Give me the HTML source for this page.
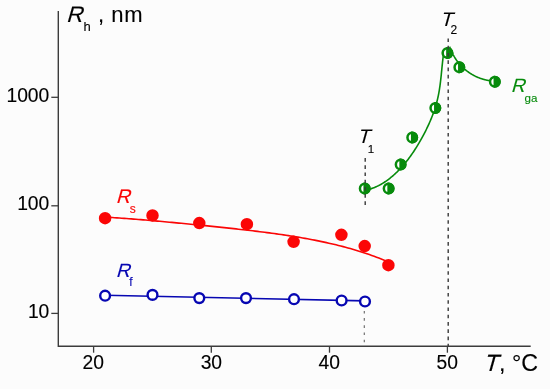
<!DOCTYPE html>
<html><head><meta charset="utf-8"><style>
html,body{margin:0;padding:0;background:#fcfcfc;}
svg{display:block;font-family:"Liberation Sans",Arial,sans-serif;}
text{stroke-width:0.12px;}
</style></head><body>
<svg width="550" height="389" viewBox="0 0 550 389">
<rect width="550" height="389" fill="#fcfcfc"/>
<path d="M58.3,11 V346.3 H530.7" fill="none" stroke="#3c3c3c" stroke-width="1.4"/>
<line x1="51.3" y1="97.3" x2="58.3" y2="97.3" stroke="#3c3c3c" stroke-width="1.3"/>
<line x1="51.3" y1="205.8" x2="58.3" y2="205.8" stroke="#3c3c3c" stroke-width="1.3"/>
<line x1="51.3" y1="313.4" x2="58.3" y2="313.4" stroke="#3c3c3c" stroke-width="1.3"/>
<line x1="93.6" y1="346.3" x2="93.6" y2="352.7" stroke="#3c3c3c" stroke-width="1.3"/>
<line x1="211.3" y1="346.3" x2="211.3" y2="352.7" stroke="#3c3c3c" stroke-width="1.3"/>
<line x1="329.5" y1="346.3" x2="329.5" y2="352.7" stroke="#3c3c3c" stroke-width="1.3"/>
<line x1="447.4" y1="346.3" x2="447.4" y2="352.7" stroke="#3c3c3c" stroke-width="1.3"/>
<text x="6.42" y="102.00" font-size="19.3" font-style="normal" fill="#000" stroke="#000">1000</text>
<text x="17.15" y="209.90" font-size="19.3" font-style="normal" fill="#000" stroke="#000">100</text>
<text x="27.89" y="318.00" font-size="19.3" font-style="normal" fill="#000" stroke="#000">10</text>
<text x="82.56" y="369.00" font-size="19.3" font-style="normal" fill="#000" stroke="#000">20</text>
<text x="200.63" y="369.00" font-size="19.3" font-style="normal" fill="#000" stroke="#000">30</text>
<text x="318.52" y="369.00" font-size="19.3" font-style="normal" fill="#000" stroke="#000">40</text>
<text x="436.56" y="369.00" font-size="19.3" font-style="normal" fill="#000" stroke="#000">50</text>
<path d="M105.10,217.09 L107.48,217.23 L109.86,217.38 L112.24,217.53 L114.62,217.69 L117.00,217.85 L119.38,218.01 L121.76,218.18 L124.15,218.36 L126.53,218.53 L128.91,218.71 L131.29,218.90 L133.67,219.09 L136.05,219.28 L138.43,219.47 L140.81,219.67 L143.19,219.87 L145.57,220.07 L147.95,220.27 L150.33,220.48 L152.71,220.69 L155.09,220.90 L157.47,221.11 L159.86,221.32 L162.24,221.54 L164.62,221.75 L167.00,221.97 L169.38,222.19 L171.76,222.41 L174.14,222.64 L176.52,222.86 L178.90,223.09 L181.28,223.31 L183.66,223.54 L186.04,223.77 L188.42,224.00 L190.80,224.23 L193.18,224.47 L195.57,224.70 L197.95,224.94 L200.33,225.17 L202.71,225.41 L205.09,225.65 L207.47,225.89 L209.85,226.13 L212.23,226.37 L214.61,226.62 L216.99,226.86 L219.37,227.11 L221.75,227.36 L224.13,227.61 L226.51,227.87 L228.89,228.12 L231.28,228.38 L233.66,228.64 L236.04,228.90 L238.42,229.17 L240.80,229.43 L243.18,229.70 L245.56,229.98 L247.94,230.25 L250.32,230.53 L252.70,230.82 L255.08,231.10 L257.46,231.39 L259.84,231.69 L262.22,231.99 L264.61,232.29 L266.99,232.60 L269.37,232.91 L271.75,233.23 L274.13,233.56 L276.51,233.89 L278.89,234.22 L281.27,234.56 L283.65,234.91 L286.03,235.27 L288.41,235.63 L290.79,236.00 L293.17,236.37 L295.55,236.76 L297.93,237.15 L300.32,237.55 L302.70,237.96 L305.08,238.38 L307.46,238.81 L309.84,239.25 L312.22,239.70 L314.60,240.16 L316.98,240.63 L319.36,241.11 L321.74,241.60 L324.12,242.11 L326.50,242.63 L328.88,243.16 L331.26,243.70 L333.64,244.26 L336.03,244.83 L338.41,245.42 L340.79,246.02 L343.17,246.64 L345.55,247.27 L347.93,247.92 L350.31,248.59 L352.69,249.27 L355.07,249.97 L357.45,250.69 L359.83,251.43 L362.21,252.19 L364.59,252.96 L366.97,253.76 L369.35,254.58 L371.74,255.42 L374.12,256.28 L376.50,257.16 L378.88,258.07 L381.26,259.00 L383.64,259.95 L386.02,260.93 L388.40,261.94" fill="none" stroke="#fb0606" stroke-width="1.6"/>
<path d="M105.10,295.20 L365.00,300.90" fill="none" stroke="#0707b2" stroke-width="1.6"/>
<path d="M364.67,190.44 L365.54,190.26 L366.40,190.07 L367.26,189.87 L368.11,189.65 L368.95,189.41 L369.79,189.17 L370.62,188.91 L371.44,188.63 L372.25,188.35 L373.06,188.05 L373.86,187.74 L374.65,187.42 L375.44,187.08 L376.22,186.74 L377.00,186.38 L377.76,186.01 L378.53,185.64 L379.28,185.25 L380.03,184.85 L380.77,184.44 L381.51,184.02 L382.24,183.59 L382.96,183.15 L383.68,182.70 L384.40,182.24 L385.10,181.77 L385.80,181.30 L386.50,180.81 L387.19,180.32 L387.87,179.82 L388.55,179.31 L389.23,178.79 L389.89,178.27 L390.56,177.74 L391.21,177.20 L391.87,176.66 L392.51,176.11 L393.16,175.55 L393.79,174.99 L394.43,174.42 L395.05,173.84 L395.67,173.26 L396.29,172.67 L396.91,172.08 L397.51,171.48 L398.12,170.88 L398.72,170.27 L399.31,169.66 L399.90,169.04 L400.48,168.42 L401.06,167.79 L401.64,167.15 L402.21,166.52 L402.78,165.87 L403.34,165.22 L403.90,164.57 L404.45,163.92 L405.00,163.26 L405.55,162.59 L406.09,161.92 L406.62,161.25 L407.15,160.57 L407.68,159.89 L408.21,159.21 L408.73,158.52 L409.24,157.83 L409.76,157.13 L410.26,156.43 L410.77,155.73 L411.27,155.03 L411.76,154.32 L412.26,153.61 L412.75,152.89 L413.23,152.18 L413.71,151.46 L414.19,150.73 L414.66,150.01 L415.13,149.28 L415.60,148.55 L416.06,147.82 L416.52,147.08 L416.98,146.35 L417.43,145.61 L417.88,144.87 L418.33,144.12 L418.77,143.38 L419.21,142.63 L419.64,141.89 L420.08,141.14 L420.51,140.39 L420.93,139.64 L421.36,138.88 L421.78,138.13 L422.19,137.37 L422.61,136.62 L423.02,135.86 L423.42,135.10 L423.83,134.34 L424.23,133.58 L424.63,132.82 L425.02,132.05 L425.41,131.29 L425.80,130.52 L426.18,129.75 L426.56,128.99 L426.93,128.22 L427.30,127.44 L427.67,126.67 L428.03,125.90 L428.39,125.12 L428.75,124.35 L429.10,123.57 L429.45,122.79 L429.79,122.01 L430.13,121.23 L430.46,120.44 L430.79,119.66 L431.12,118.87 L431.44,118.08 L431.76,117.29 L432.07,116.50 L432.38,115.71 L432.68,114.91 L432.98,114.12 L433.27,113.32 L433.56,112.52 L433.84,111.72 L434.12,110.92 L434.39,110.11 L434.66,109.31 L434.92,108.50 L435.18,107.69 L435.43,106.88 L435.68,106.07 L435.92,105.25 L436.15,104.44 L436.38,103.62 L436.61,102.80 L436.83,101.98 L437.04,101.15 L437.25,100.33 L437.45,99.50 L437.65,98.67 L437.84,97.84 L438.02,97.01 L438.20,96.17 L438.37,95.33 L438.54,94.49 L438.70,93.65 L438.86,92.81 L439.01,91.97 L439.15,91.12 L439.30,90.28 L439.43,89.43 L439.56,88.58 L439.69,87.73 L439.82,86.88 L439.94,86.02 L440.05,85.17 L440.17,84.32 L440.28,83.46 L440.38,82.60 L440.49,81.75 L440.59,80.89 L440.69,80.03 L440.79,79.17 L440.88,78.31 L440.98,77.45 L441.07,76.59 L441.16,75.73 L441.25,74.87 L441.33,74.01 L441.42,73.15 L441.51,72.29 L441.59,71.43 L441.68,70.57 L441.76,69.71 L441.85,68.85 L441.93,67.99 L442.02,67.13 L442.11,66.28 L442.19,65.42 L442.28,64.56 L442.37,63.71 L442.46,62.85 L442.55,62.00 L442.65,61.14 L442.75,60.29 L442.84,59.44 L442.94,58.59 L443.05,57.75 L443.15,56.90 L443.26,56.05 L443.38,55.21 L443.49,54.37 L443.61,53.53 L443.73,52.69 L443.86,51.85 L443.99,51.02" fill="none" stroke="#078b0c" stroke-width="1.6"/>
<path d="M449.80,46.63 L449.89,46.92 L449.99,47.22 L450.08,47.51 L450.18,47.80 L450.28,48.09 L450.39,48.38 L450.49,48.67 L450.60,48.96 L450.70,49.25 L450.81,49.53 L450.93,49.82 L451.04,50.10 L451.15,50.39 L451.27,50.67 L451.39,50.95 L451.51,51.24 L451.63,51.52 L451.76,51.80 L451.88,52.07 L452.01,52.35 L452.14,52.63 L452.27,52.91 L452.40,53.18 L452.53,53.45 L452.67,53.73 L452.81,54.00 L452.94,54.27 L453.09,54.54 L453.23,54.81 L453.37,55.08 L453.52,55.35 L453.66,55.61 L453.81,55.88 L453.96,56.14 L454.11,56.41 L454.27,56.67 L454.42,56.93 L454.58,57.19 L454.74,57.45 L454.89,57.71 L455.06,57.97 L455.22,58.22 L455.38,58.48 L455.55,58.73 L455.71,58.98 L455.88,59.24 L456.05,59.49 L456.23,59.74 L456.40,59.98 L456.57,60.23 L456.75,60.48 L456.93,60.72 L457.10,60.97 L457.29,61.21 L457.47,61.45 L457.65,61.69 L457.83,61.93 L458.02,62.17 L458.21,62.41 L458.40,62.65 L458.59,62.88 L458.78,63.11 L458.97,63.35 L459.17,63.58 L459.36,63.81 L459.56,64.04 L459.76,64.26 L459.96,64.49 L460.16,64.72 L460.36,64.94 L460.56,65.16 L460.77,65.38 L460.98,65.61 L461.18,65.82 L461.39,66.04 L461.60,66.26 L461.81,66.47 L462.03,66.69 L462.24,66.90 L462.46,67.11 L462.67,67.32 L462.89,67.53 L463.11,67.74 L463.33,67.94 L463.55,68.15 L463.77,68.35 L464.00,68.55 L464.22,68.75 L464.45,68.95 L464.68,69.15 L464.90,69.35 L465.13,69.54 L465.36,69.74 L465.60,69.93 L465.83,70.12 L466.06,70.31 L466.30,70.50 L466.54,70.68 L466.77,70.87 L467.01,71.05 L467.25,71.24 L467.49,71.42 L467.74,71.60 L467.98,71.77 L468.22,71.95 L468.47,72.13 L468.71,72.30 L468.96,72.47 L469.21,72.64 L469.46,72.81 L469.71,72.98 L469.96,73.15 L470.21,73.31 L470.47,73.47 L470.72,73.64 L470.98,73.80 L471.23,73.95 L471.49,74.11 L471.75,74.27 L472.01,74.42 L472.27,74.57 L472.53,74.72 L472.79,74.87 L473.06,75.02 L473.32,75.17 L473.58,75.31 L473.85,75.45 L474.12,75.59 L474.38,75.73 L474.65,75.87 L474.92,76.01 L475.19,76.14 L475.46,76.28 L475.74,76.41 L476.01,76.54 L476.28,76.66 L476.56,76.79 L476.83,76.92 L477.11,77.04 L477.38,77.16 L477.66,77.28 L477.94,77.40 L478.22,77.51 L478.50,77.63 L478.78,77.74 L479.06,77.85 L479.35,77.96 L479.63,78.07 L479.91,78.17 L480.20,78.28 L480.48,78.38 L480.77,78.48 L481.06,78.58 L481.34,78.68 L481.63,78.77 L481.92,78.86 L482.21,78.96 L482.50,79.05 L482.79,79.13 L483.08,79.22 L483.37,79.30 L483.67,79.39 L483.96,79.47 L484.26,79.54 L484.55,79.62 L484.85,79.70 L485.14,79.77 L485.44,79.84 L485.74,79.91 L486.03,79.98 L486.33,80.04 L486.63,80.11 L486.93,80.17 L487.23,80.23 L487.53,80.29 L487.83,80.34 L488.13,80.40 L488.44,80.45 L488.74,80.50 L489.04,80.55 L489.35,80.59 L489.65,80.64 L489.96,80.68 L490.26,80.72 L490.57,80.76 L490.87,80.79 L491.18,80.83 L491.49,80.86 L491.79,80.89 L492.10,80.92 L492.41,80.95 L492.72,80.97 L493.03,80.99 L493.34,81.01 L493.65,81.03 L493.96,81.05 L494.27,81.06 L494.58,81.07 L494.89,81.08" fill="none" stroke="#078b0c" stroke-width="1.6"/>
<circle cx="105.1" cy="218.2" r="5.0" fill="#fb0606" stroke="#fb0606" stroke-width="2.5"/>
<circle cx="152.5" cy="215.4" r="5.0" fill="#fb0606" stroke="#fb0606" stroke-width="2.5"/>
<circle cx="199.3" cy="223.1" r="5.0" fill="#fb0606" stroke="#fb0606" stroke-width="2.5"/>
<circle cx="246.9" cy="224.2" r="5.0" fill="#fb0606" stroke="#fb0606" stroke-width="2.5"/>
<circle cx="293.6" cy="241.8" r="5.0" fill="#fb0606" stroke="#fb0606" stroke-width="2.5"/>
<circle cx="341.4" cy="234.8" r="5.0" fill="#fb0606" stroke="#fb0606" stroke-width="2.5"/>
<circle cx="364.7" cy="246.1" r="5.0" fill="#fb0606" stroke="#fb0606" stroke-width="2.5"/>
<circle cx="388.4" cy="265.2" r="5.0" fill="#fb0606" stroke="#fb0606" stroke-width="2.5"/>
<circle cx="105.1" cy="295.7" r="4.9" fill="#fff" stroke="#0707b2" stroke-width="2.4"/>
<circle cx="152.5" cy="294.9" r="4.9" fill="#fff" stroke="#0707b2" stroke-width="2.4"/>
<circle cx="199.3" cy="298.1" r="4.9" fill="#fff" stroke="#0707b2" stroke-width="2.4"/>
<circle cx="246" cy="298.1" r="4.9" fill="#fff" stroke="#0707b2" stroke-width="2.4"/>
<circle cx="294" cy="299.2" r="4.9" fill="#fff" stroke="#0707b2" stroke-width="2.4"/>
<circle cx="341.6" cy="300.5" r="4.9" fill="#fff" stroke="#0707b2" stroke-width="2.4"/>
<circle cx="365" cy="301.5" r="4.9" fill="#fff" stroke="#0707b2" stroke-width="2.4"/>
<circle cx="364.7" cy="188.4" r="4.75" fill="#fff" stroke="#078b0c" stroke-width="2.5"/>
<path d="M364.7,183.65 A4.75,4.75 0 0 1 364.7,193.15 Z" fill="#078b0c" stroke="#078b0c" stroke-width="2.5"/>
<circle cx="388.6" cy="188.4" r="4.75" fill="#fff" stroke="#078b0c" stroke-width="2.5"/>
<path d="M388.6,183.65 A4.75,4.75 0 0 1 388.6,193.15 Z" fill="#078b0c" stroke="#078b0c" stroke-width="2.5"/>
<circle cx="400.6" cy="164.6" r="4.75" fill="#fff" stroke="#078b0c" stroke-width="2.5"/>
<path d="M400.6,159.85 A4.75,4.75 0 0 1 400.6,169.35 Z" fill="#078b0c" stroke="#078b0c" stroke-width="2.5"/>
<circle cx="412.2" cy="137.6" r="4.75" fill="#fff" stroke="#078b0c" stroke-width="2.5"/>
<path d="M412.2,132.85 A4.75,4.75 0 0 1 412.2,142.35 Z" fill="#078b0c" stroke="#078b0c" stroke-width="2.5"/>
<circle cx="435.3" cy="108" r="4.75" fill="#fff" stroke="#078b0c" stroke-width="2.5"/>
<path d="M435.3,103.25 A4.75,4.75 0 0 1 435.3,112.75 Z" fill="#078b0c" stroke="#078b0c" stroke-width="2.5"/>
<circle cx="447.4" cy="52.9" r="4.75" fill="#fff" stroke="#078b0c" stroke-width="2.5"/>
<path d="M447.4,48.15 A4.75,4.75 0 0 1 447.4,57.65 Z" fill="#078b0c" stroke="#078b0c" stroke-width="2.5"/>
<circle cx="459.3" cy="67.3" r="4.75" fill="#fff" stroke="#078b0c" stroke-width="2.5"/>
<path d="M459.3,62.55 A4.75,4.75 0 0 1 459.3,72.05 Z" fill="#078b0c" stroke="#078b0c" stroke-width="2.5"/>
<circle cx="494.8" cy="81.8" r="4.75" fill="#fff" stroke="#078b0c" stroke-width="2.5"/>
<path d="M494.8,77.05 A4.75,4.75 0 0 1 494.8,86.55 Z" fill="#078b0c" stroke="#078b0c" stroke-width="2.5"/>
<line x1="365.2" y1="158.1" x2="365.2" y2="205.5" stroke="#383838" stroke-width="1.4" stroke-dasharray="3.6 3.6"/>
<line x1="448.2" y1="38.5" x2="448.2" y2="346" stroke="#383838" stroke-width="1.4" stroke-dasharray="3.6 3.67"/>
<line x1="364.3" y1="310.9" x2="364.3" y2="345" stroke="#6a6a6a" stroke-width="1.15" stroke-dasharray="2.6 4.6"/>
<text transform="translate(66.05,21.80) skewX(-15.64)" font-size="22.6" fill="#000" stroke="#000">R</text>
<text x="83.40" y="31.20" font-size="13" font-style="normal" fill="#000" stroke="#000">h</text>
<text x="98.12" y="21.80" font-size="22" font-style="normal" fill="#000" stroke="#000">,</text>
<text x="111.24" y="21.80" font-size="22" font-style="normal" fill="#000" stroke="#000" letter-spacing="0.7">nm</text>
<text transform="translate(483.35,370.60) skewX(-15.64)" font-size="23.5" fill="#000" stroke="#000">T</text>
<text x="499.12" y="370.60" font-size="23.2" font-style="normal" fill="#000" stroke="#000">, °C</text>
<text transform="translate(357.30,143.00) skewX(-15.64)" font-size="19.6" fill="#000" stroke="#000">T</text>
<text x="367.72" y="152.60" font-size="11.5" font-style="normal" fill="#000" stroke="#000">1</text>
<text transform="translate(440.10,25.50) skewX(-15.64)" font-size="19.6" fill="#000" stroke="#000">T</text>
<text x="450.60" y="34.00" font-size="12" font-style="normal" fill="#000" stroke="#000">2</text>
<text transform="translate(115.70,202.70) skewX(-15.64)" font-size="19.5" fill="#fb0606" stroke="#fb0606">R</text>
<text x="129.87" y="213.20" font-size="12" font-style="normal" fill="#fb0606" stroke="#fb0606">s</text>
<text transform="translate(115.72,276.80) skewX(-15.64)" font-size="19.3" fill="#0707b2" stroke="#0707b2">R</text>
<text x="129.23" y="286.00" font-size="12" font-style="normal" fill="#0707b2" stroke="#0707b2">f</text>
<text transform="translate(510.63,91.90) skewX(-15.64)" font-size="19.2" fill="#078b0c" stroke="#078b0c">R</text>
<text x="524.61" y="102.20" font-size="11.6" font-style="normal" fill="#078b0c" stroke="#078b0c">ga</text>
</svg>
</body></html>
